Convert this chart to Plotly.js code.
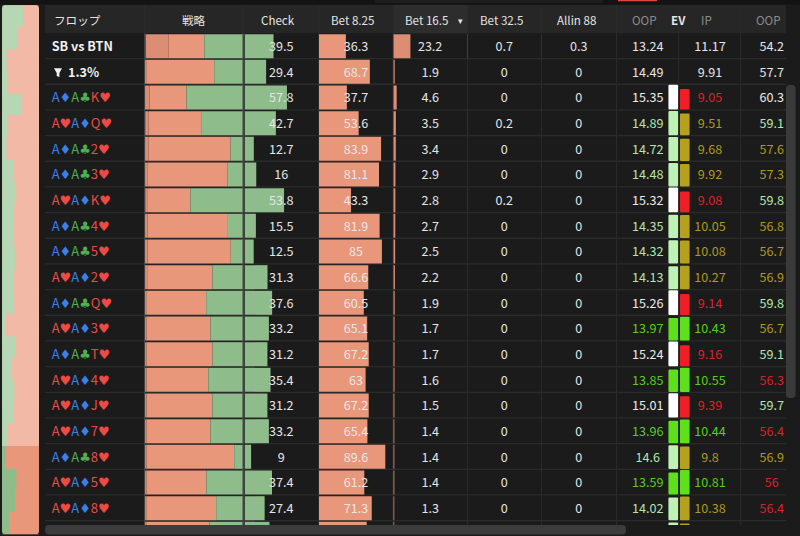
<!DOCTYPE html>
<html><head><meta charset="utf-8">
<script src="https://cdn.plot.ly/plotly-3.0.1.min.js"></script>
<style>html,body{margin:0;padding:0;background:#1b1b1b;overflow:hidden}#c{width:800px;height:536px}</style>
</head><body><div id="c"></div>
<script>
// ---------- data ----------
const flopRows = [["A♦","A♣","K♥"],["A♥","A♦","Q♥"],["A♦","A♣","2♥"],["A♦","A♣","3♥"],["A♥","A♦","K♥"],["A♦","A♣","4♥"],["A♦","A♣","5♥"],["A♥","A♦","2♥"],["A♦","A♣","Q♥"],["A♥","A♦","3♥"],["A♦","A♣","T♥"],["A♥","A♦","4♥"],["A♥","A♦","J♥"],["A♥","A♦","7♥"],["A♦","A♣","8♥"],["A♥","A♦","5♥"],["A♥","A♦","8♥"]];
const summaryRow = "SB vs BTN";
const filterRow = "1.3%";
const columnNames = ["フロップ","戦略","Check","Bet 8.25","Bet 16.5","Bet 32.5","Allin 88","OOP","EV","IP","OOP"];
const check  = [39.5,29.4,57.8,42.7,12.7,16,53.8,15.5,12.5,31.3,37.6,33.2,31.2,35.4,31.2,33.2,9,37.4,27.4,34];
const bet825 = [36.3,68.7,37.7,53.6,83.9,81.1,43.3,81.9,85,66.6,60.5,65.1,67.2,63,67.2,65.4,89.6,61.2,71.3,64.5];
const bet165 = [23.2,1.9,4.6,3.5,3.4,2.9,2.8,2.7,2.5,2.2,1.9,1.7,1.7,1.6,1.5,1.4,1.4,1.4,1.3,1.3];
const bet325 = [0.7,0,0,0.2,0,0,0.2,0,0,0,0,0,0,0,0,0,0,0,0,0];
const allin  = [0.3,0,0,0,0,0,0,0,0,0,0,0,0,0,0,0,0,0,0,0];
const evOOP  = [13.24,14.49,15.35,14.89,14.72,14.48,15.32,14.35,14.32,14.13,15.26,13.97,15.24,13.85,15.01,13.96,14.6,13.59,14.02,14.4];
const evIP   = [11.17,9.91,9.05,9.51,9.68,9.92,9.08,10.05,10.08,10.27,9.14,10.43,9.16,10.55,9.39,10.44,9.8,10.81,10.38,9.8];
const eqOOP  = [54.2,57.7,60.3,59.1,57.6,57.3,59.8,56.8,56.7,56.9,59.8,56.7,59.1,56.3,59.7,56.4,56.9,56,56.4];
const overviewExtra = [32,16,10.8,39.6,35.9,19.7];

// ---------- layout constants ----------
const W=800,H=536, FONT='"Noto Sans CJK JP","Noto Sans",sans-serif';
const TOP=33.3, ROWH=25.67, BOTTOM=525, TEXTROWS=19, TEXTDY=0.065;
const RED='#ec4a45',BLUE='#3b80e6',GREEN='#4eb04e';
const C={sal:'#e9977b',sal2:'#dc8e74',thin:'#a8503f',chk:'#8fbc8b',txt:'#e6e6e6',
  white:'#ffffff',lg:'#bff3b6',lgT:'#b5e6ae',gr:'#5fe01c',grT:'#58cf1c',gold:'#b5a11e',goldT:'#ad9a1f',red:'#ee2026',redT:'#dd2228',whiteT:'#ececec'};
const px=x=>x/W, py=y=>1-y/H;
const idx=a=>a.map((_,i)=>i+0.5);
const shapes=[],anns=[],traces=[],layout={};

function rect(x0,y0,x1,y1,color,layer){shapes.push({type:'rect',xref:'paper',yref:'paper',x0:px(x0),x1:px(x1),y0:py(y0),y1:py(y1),fillcolor:color,line:{width:0},layer:layer||'below'});}
function line(x0,y0,x1,y1,color,w,layer){shapes.push({type:'line',xref:'paper',yref:'paper',x0:px(x0),x1:px(x1),y0:py(y0),y1:py(y1),line:{color:color,width:w||1},layer:layer||'below'});}
function poly(points,color,layer){const d=points.map((p,i)=>(i?'L':'M')+px(p[0]).toFixed(5)+','+py(p[1]).toFixed(5)).join(' ')+' Z';
  shapes.push({type:'path',xref:'paper',yref:'paper',path:d,fillcolor:color,line:{width:0},layer:layer||'below'});}
function roundBar(x0,y0,x1,y1,r,color){shapes.push({type:'path',xref:'paper',yref:'paper',layer:'below',fillcolor:color,line:{width:0},
  path:`M${px(x0+r)},${py(y0)} L${px(x1-r)},${py(y0)} Q${px(x1)},${py(y0)} ${px(x1)},${py(y0+r)} L${px(x1)},${py(y1-r)} Q${px(x1)},${py(y1)} ${px(x1-r)},${py(y1)} L${px(x0+r)},${py(y1)} Q${px(x0)},${py(y1)} ${px(x0)},${py(y1-r)} L${px(x0)},${py(y0+r)} Q${px(x0)},${py(y0)} ${px(x0+r)},${py(y0)} Z`});}

// axes: one shared row axis, one x axis per column
const hidden={visible:false,fixedrange:true,showgrid:false,zeroline:false};
layout.yaxis=Object.assign({},hidden,{domain:[py(BOTTOM),py(TOP)],range:[(BOTTOM-TOP)/ROWH,0],anchor:'x'});
function col(n,x0,x1,range){const k='xaxis'+(n===1?'':n);layout[k]=Object.assign({},hidden,{domain:[px(x0),px(x1)],range:range||[0,100],anchor:'y'});return 'x'+(n===1?'':n);}
const xLabel=col(1,45,144,[0,99]), xStrat=col(2,145,243), xChk=col(3,244.5,318), xB8=col(4,319,393), xB16=col(5,393.3,467), xB32=col(6,467.3,541), xAll=col(7,541.5,616);
const xOOPt=col(8,617,679,[0,62]), xEV=col(9,667.5,690.5,[-0.5,1.5]), xIPt=col(10,680,741,[0,61]), xEq=col(11,741,786,[0,45]);

function hbar(xa,vals,color,base){traces.push({type:'bar',orientation:'h',xaxis:xa,yaxis:'y',y:idx(vals),x:vals,base:base||0,width:0.935,marker:{color:color,line:{width:0}},hoverinfo:'skip'});}
function textCol(xa,xc,vals,colors){const v=vals.slice(0,TEXTROWS);traces.push({type:'scatter',mode:'text',xaxis:xa,yaxis:'y',x:v.map(()=>xc),y:idx(v).map(y=>y+TEXTDY),text:v.map(String),
  textposition:'middle center',cliponaxis:false,textfont:{family:FONT,size:12.6,color:colors||C.txt},hoverinfo:'skip'});}

// strategy stack, darkest sizing first
const b1=allin, b2=allin.map((v,i)=>v+bet325[i]), b3=b2.map((v,i)=>v+bet165[i]), b4=b3.map((v,i)=>v+bet825[i]);
hbar(xStrat,allin,C.thin);
hbar(xStrat,bet325,C.thin,b1);
hbar(xStrat,bet165,C.sal2,b2);
hbar(xStrat,bet825,C.sal,b3);
hbar(xStrat,check,C.chk,b4);
hbar(xChk,check,C.chk);
hbar(xB8,bet825,C.sal);
hbar(xB16,bet165,C.sal2);
hbar(xB32,bet325,C.thin);
hbar(xAll,allin,C.thin);
textCol(xChk,50,check);textCol(xB8,50,bet825);textCol(xB16,50,bet165);textCol(xB32,50,bet325);textCol(xAll,50,allin);

// EV columns
const oopCol=v=>v>=15?C.white:v>=14?C.lg:C.gr;
const oopTxt=v=>v>=15?C.whiteT:v>=14?C.lgT:C.grT;
const ipCol=v=>v>=10.4?C.gr:v>=9.5?C.gold:C.red;
const ipTxt=v=>v>=10.4?C.grT:v>=9.5?C.goldT:C.redT;
const eqTxt=v=>v>=60?C.whiteT:v>=59?C.lgT:v>=56.5?C.goldT:C.redT;
const plain=(f,a)=>a.slice(0,TEXTROWS).map((v,i)=>i<2?C.txt:f(v));
textCol(xOOPt,30.7,evOOP,plain(oopTxt,evOOP));
textCol(xIPt,30,evIP,plain(ipTxt,evIP));
textCol(xEq,30.7,eqOOP,plain(eqTxt,eqOOP));
function evBars(xpos,vals,scale,colorFn){const v=vals.slice(2);
  traces.push({type:'bar',orientation:'v',xaxis:xEV,yaxis:'y',x:v.map(()=>xpos),y:v.map(a=>-a*scale),base:v.map((_,i)=>i+2+0.97),width:0.84,
  marker:{color:v.map(colorFn),cornerradius:1.5,line:{width:0}},hoverinfo:'skip'});}
evBars(0,evOOP,1.62/ROWH,oopCol);
evBars(1,evIP,2.28/ROWH,ipCol);

// row labels: suit glyphs come from a font with narrower symbols
const cardSpan=(c)=>{const col=c[1]==='♥'?RED:c[1]==='♦'?BLUE:GREEN;return `<span style="color:${col}">${c[0]}</span><span style="color:${col};font-family:'DejaVu Sans';font-size:13px">${c[1]}</span>`;};
const labels=flopRows.map(r=>r.map(cardSpan).join(''));
traces.push({type:'scatter',mode:'text',xaxis:xLabel,yaxis:'y',x:labels.map(()=>6.7),y:labels.map((_,i)=>i+2.5+TEXTDY),text:labels,textposition:'middle right',cliponaxis:false,
  textfont:{family:FONT,size:13,color:RED},hoverinfo:'skip'});
traces.push({type:'scatter',mode:'text',xaxis:xLabel,yaxis:'y',x:[6.7,23],y:[0.5+TEXTDY,1.5+TEXTDY],text:['<b>'+summaryRow+'</b>','<b>'+filterRow+'</b>'],textposition:'middle right',cliponaxis:false,
  textfont:{family:FONT,size:12.6,color:'#f0f0f0'},hoverinfo:'skip'});

// left overview strip
const overview=check.slice(2).concat(overviewExtra);
const PANEL_PALE=20, panelY0=5.3, panelY1=534.3, panelSplit=panelY0+(panelY1-panelY0)*PANEL_PALE/overview.length-2;
rect(2,panelY0,39,panelSplit,'#f1b9a6');
rect(2,panelSplit,39,panelY1,'#e9977b');
layout.xaxis12=Object.assign({},hidden,{domain:[px(2),px(39)],range:[0,100],anchor:'y2'});
layout.yaxis2=Object.assign({},hidden,{domain:[py(panelY1),py(panelY0)],range:[overview.length,0],anchor:'x12'});
traces.push({type:'bar',orientation:'h',xaxis:'x12',yaxis:'y2',y:idx(overview),x:overview,width:1.02,base:0,marker:{color:overview.map((_,i)=>i<PANEL_PALE?'#b6d7b3':'#8fbc8b'),line:{width:0}},hoverinfo:'skip'});
traces.push({type:'bar',orientation:'h',xaxis:'x12',yaxis:'y2',y:idx(overview),x:overview.map(v=>100-v),base:overview,width:1.02,marker:{color:overview.map((_,i)=>i<PANEL_PALE?'#f1b9a6':'#e9977b'),line:{width:0}},hoverinfo:'skip'});
[[2,5.3,1,1],[39,5.3,-1,1],[2,534.3,1,-1],[39,534.3,-1,-1]].forEach(([x,y,a,b])=>{const r=3;
  shapes.push({type:'path',xref:'paper',yref:'paper',layer:'above',fillcolor:'#1b1b1b',line:{width:0},
  path:`M${px(x)},${py(y)} L${px(x+a*r)},${py(y)} Q${px(x)},${py(y)} ${px(x)},${py(y+b*r)} Z`});});

// chrome: top strip, header, grid, scrollbars
rect(0,0,800,4.5,'#131313');
roundBar(375,-4,603,3,2,'#1e1e1e');
rect(618,0,657,1.2,'#e0443e');
rect(45,5,786,33.3,'#262626');
rect(393,5,467.5,33.3,'#2d2d2d');
for(let i=1;i<=19;i++){const y=TOP+ROWH*i-0.4;line(45,y,786,y,'#2b2b2b',1.3);}
[144.5,243,318.5,393,467.5,541.5,616.5,678.7,740.7].forEach(x=>line(x,5,x,BOTTOM,'#2a2a2a',1));
line(144.6,TOP,144.6,BOTTOM,'#444444',1,'above');
line(243.4,TOP,243.4,BOTTOM,'#444444',1.8,'above');
roundBar(786,85,795.5,398,3.5,'#3a3a3a');
roundBar(45,525,626,534.5,4,'#3c3c3c');

// funnel glyph of the filter row
poly([[54,68.2],[62,68.2],[59.4,73],[59.4,77],[56.7,76],[56.7,73]],'#f0f0f0','above');

// header texts
const headX=[52,194,278,352.7,426.7,501.7,576,644.7,678,706.7,768.7];
columnNames.forEach((t,i)=>{const dim=(i===7||i===9||i===10),bold=(i===8);
  anns.push({xref:'paper',yref:'paper',x:px(headX[i]),y:py(20),xanchor:i===0?'left':'center',yanchor:'middle',showarrow:false,
    text:bold?'<b>'+t+'</b>':t,font:{family:FONT,size:11.6,color:dim?'#8c8c8c':'#e4e4e4'}});});
anns.push({xref:'paper',yref:'paper',x:px(460.8),y:py(20.5),xanchor:'center',yanchor:'middle',showarrow:false,text:'▾',font:{family:FONT,size:9,color:'#e4e4e4'}});

Object.assign(layout,{width:W,height:H,margin:{l:0,r:0,t:0,b:0,pad:0},paper_bgcolor:'#1b1b1b',plot_bgcolor:'rgba(0,0,0,0)',showlegend:false,barmode:'overlay',shapes:shapes,annotations:anns,font:{family:FONT}});
Plotly.newPlot('c',traces,layout,{displayModeBar:false,staticPlot:true});
</script></body></html>
